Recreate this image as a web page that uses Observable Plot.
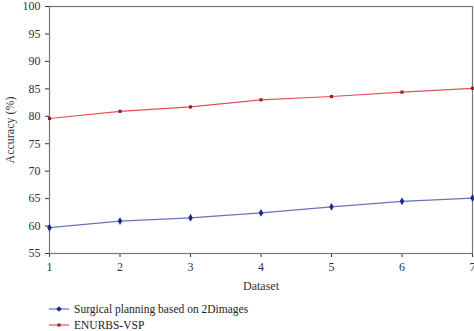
<!DOCTYPE html>
<html>
<head>
<meta charset="utf-8">
<script src="https://cdn.jsdelivr.net/npm/d3@7"></script>
<script src="https://cdn.jsdelivr.net/npm/@observablehq/plot@0.6"></script>
<style>
  body { margin: 0; background: #fff; font-family: "Liberation Serif", serif; }
  #legend { margin-left: 49px; margin-top: 6px; font-size: 11.5px; color: #222; }
  .item { display: flex; align-items: center; height: 16px; }
  .item svg { margin-right: 5px; }
</style>
</head>
<body>
<div id="chart"></div>
<div id="legend"></div>
<script>
const datasets = [1, 2, 3, 4, 5, 6, 7];
const surgical2D = [59.7, 60.9, 61.5, 62.4, 63.5, 64.5, 65.1];
const enurbs = [79.6, 80.9, 81.7, 83.0, 83.6, 84.4, 85.1];
const seriesNames = ["Surgical planning based on 2Dimages", "ENURBS-VSP"];
const yTicks = [55, 60, 65, 70, 75, 80, 85, 90, 95, 100];

const lineColors = ["#6a72b8", "#e4505c"];
const markColors = ["#1f2a86", "#9a1a2a"];
const symbols = ["diamond", "square"];

const rows = [];
datasets.forEach((d, i) => {
  rows.push({ x: d, y: surgical2D[i], s: seriesNames[0] });
  rows.push({ x: d, y: enurbs[i], s: seriesNames[1] });
});

const chart = Plot.plot({
  width: 474,
  height: 295,
  marginLeft: 49,
  marginRight: 2,
  marginTop: 6,
  marginBottom: 42,
  style: { fontFamily: "Liberation Serif, serif", fontSize: "12px", color: "#333", background: "#fff" },
  x: { domain: [1, 7], ticks: datasets, tickFormat: d3.format("d"), label: "Dataset", labelAnchor: "center", labelOffset: 36, tickSize: 4, labelArrow: "none" },
  y: { domain: [55, 100], ticks: yTicks, label: "Accuracy (%)", labelAnchor: "center", labelOffset: 44, tickSize: 4, labelArrow: "none" },
  color: { domain: seriesNames, range: lineColors },
  marks: [
    Plot.frame({ stroke: "#777", strokeWidth: 1.2 }),
    Plot.line(rows, { x: "x", y: "y", z: "s", stroke: "s", strokeWidth: 1.2 }),
    Plot.dot(rows.filter(r => r.s === seriesNames[0]), { x: "x", y: "y", symbol: () => symbols[0], r: 2.4, fill: markColors[0] }),
    Plot.dot(rows.filter(r => r.s === seriesNames[1]), { x: "x", y: "y", symbol: () => symbols[1], r: 1.8, fill: markColors[1] })
  ]
});
document.getElementById("chart").appendChild(chart);

const legend = d3.select("#legend");
seriesNames.forEach((name, i) => {
  const item = legend.append("div").attr("class", "item");
  const svg = item.append("svg").attr("width", 20).attr("height", 10);
  svg.append("line").attr("x1", 0).attr("x2", 20).attr("y1", 5).attr("y2", 5)
    .attr("stroke", lineColors[i]).attr("stroke-width", 1.2);
  svg.append("path").attr("transform", "translate(10,5)")
    .attr("d", d3.symbol(i === 0 ? d3.symbolDiamond2 : d3.symbolSquare2, i === 0 ? 20 : 12)())
    .attr("fill", markColors[i]);
  item.append("span").text(name);
});
</script>
</body>
</html>
